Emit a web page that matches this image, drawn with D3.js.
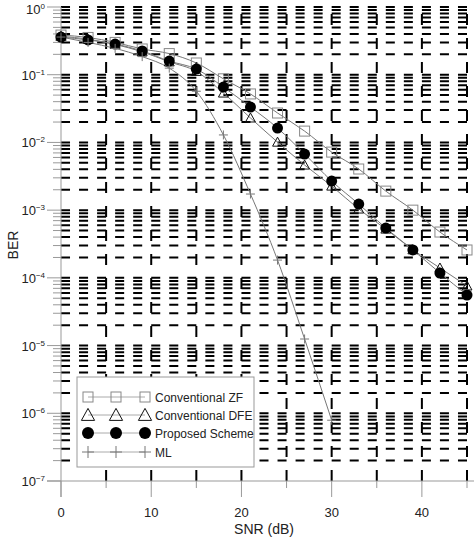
<!DOCTYPE html>
<html><head><meta charset="utf-8">
<script src="https://cdn.jsdelivr.net/npm/d3@7/dist/d3.min.js"></script>
<style>body{margin:0;background:#fff}svg{display:block;font-family:"Liberation Sans",Arial,sans-serif}</style>
</head><body><svg id="c" width="474" height="542"></svg>
<script>
const snr = [0,3,6,9,12,15,18,21,24,27,30,33,36,39,42,45];
const zf = [0.385,0.355,0.30,0.24,0.205,0.149,0.087,0.052,0.0272,0.0147,0.0072,0.00405,0.00191,0.00100,0.000475,0.000258];
const dfe = [0.37,0.335,0.28,0.218,0.155,0.112,0.0537,0.023,0.0101,0.00464,0.00227,0.00104,0.000526,0.00026,0.00014,0.000076];
const proposed = [0.36,0.326,0.284,0.224,0.159,0.121,0.0658,0.0333,0.0163,0.00674,0.00269,0.00123,0.000544,0.000258,0.000118,0.0000557];
const mlSnr = [0,3,6,9,12,15,18,21,24,27,30];
const ml = [0.36,0.30,0.245,0.185,0.125,0.057,0.0129,0.00173,0.000183,0.0000125,0.00000079];
const xTicks = [0,10,20,30,40];
const yExps = [0,-1,-2,-3,-4,-5,-6,-7];
const legendNames = ["Conventional ZF","Conventional DFE","Proposed Scheme","ML"];

const svg = d3.select("#c");
const x = d3.scaleLinear().domain([0,45]).range([61,467]);
const y = d3.scaleLog().domain([1e-7,1]).range([481,7]);
const unit = x(1)-x(0);

const gridVals = [];
for (let e=-7;e<0;e++) for (let m=1;m<=9;m++){ const v=m*Math.pow(10,e); if(v>1e-7) gridVals.push(v); }
gridVals.push(1);

const g = svg.append("g");
g.selectAll("line.hg").data(gridVals).join("line")
 .attr("x1",x(0)).attr("x2",x(45)).attr("y1",d=>y(d)).attr("y2",d=>y(d))
 .attr("stroke","#000").attr("stroke-width",2).attr("stroke-dasharray",`${unit} ${unit}`);
const vg = d3.range(5,46,5);
g.selectAll("line.vg").data(vg).join("line")
 .attr("x1",d=>x(d)).attr("x2",d=>x(d)).attr("y1",y(1e-7)).attr("y2",y(1))
 .attr("stroke","#000").attr("stroke-width",2).attr("stroke-dasharray","11 13");

const ax = svg.append("g").attr("stroke","#999").attr("stroke-width",1);
ax.append("line").attr("x1",x(0)).attr("x2",x(0)).attr("y1",y(1)).attr("y2",y(1e-7)+16);
ax.append("line").attr("x1",x(0)-14).attr("x2",474).attr("y1",y(1e-7)).attr("y2",y(1e-7));
ax.selectAll("line.yM").data(yExps).join("line")
 .attr("x1",x(0)-14).attr("x2",x(0)).attr("y1",d=>y(Math.pow(10,d))).attr("y2",d=>y(Math.pow(10,d)));
ax.selectAll("line.ym").data(gridVals.filter(v=>Math.abs(Math.log10(v)%1)>1e-9)).join("line")
 .attr("x1",x(0)-8).attr("x2",x(0)).attr("y1",d=>y(d)).attr("y2",d=>y(d));
ax.selectAll("line.xM").data(xTicks).join("line")
 .attr("x1",d=>x(d)).attr("x2",d=>x(d)).attr("y1",y(1e-7)).attr("y2",y(1e-7)+16);
ax.selectAll("line.xm").data([5,15,25,35,45]).join("line")
 .attr("x1",d=>x(d)).attr("x2",d=>x(d)).attr("y1",y(1e-7)).attr("y2",y(1e-7)+7);

svg.selectAll("text.xt").data(xTicks).join("text")
 .attr("x",d=>x(d)).attr("y",517).attr("text-anchor","middle").attr("font-size",13).attr("fill","#222").text(d=>d);
const yl = svg.selectAll("text.yt").data(yExps).join("text")
 .attr("x",45).attr("y",d=>y(Math.pow(10,d))+5+(d===0?1.5:0)).attr("text-anchor","end").attr("font-size",13).attr("fill","#222");
yl.append("tspan").text("10");
yl.append("tspan").attr("dy",-5).attr("font-size",8).text(d=>d===0?"0":"\u2212"+(-d));
svg.append("text").attr("x",264).attr("y",534).attr("text-anchor","middle").attr("font-size",14).attr("fill","#222").text("SNR (dB)");
svg.append("text").attr("transform","translate(18,245) rotate(-90)").attr("text-anchor","middle").attr("font-size",14).attr("fill","#222").text("BER");

const lineGen = (xs)=>d3.line().x((d,i)=>x(xs[i])).y(d=>y(d)).curve(d3.curveMonotoneX);
const lc = "#777";
[[zf,snr],[dfe,snr],[proposed,snr],[ml,mlSnr]].forEach(([vals,xs])=>{
  svg.append("path").attr("d",lineGen(xs)(vals)).attr("fill","none").attr("stroke",lc).attr("stroke-width",1);
});
function square(sel,cx,cy,s){sel.append("rect").attr("x",cx-s/2).attr("y",cy-s/2).attr("width",s).attr("height",s).attr("fill","none").attr("stroke","#888").attr("stroke-width",1);}
function tri(sel,cx,cy,s){sel.append("path").attr("d",`M${cx},${cy-s*0.55}L${cx+s*0.55},${cy+s*0.45}L${cx-s*0.55},${cy+s*0.45}Z`).attr("fill","none").attr("stroke","#111").attr("stroke-width",1);}
function dot(sel,cx,cy,r){sel.append("circle").attr("cx",cx).attr("cy",cy).attr("r",r).attr("fill","#000");}
function plus(sel,cx,cy,s){sel.append("path").attr("d",`M${cx},${cy-s/2}V${cy+s/2}M${cx-s/2},${cy}H${cx+s/2}`).attr("stroke","#777").attr("stroke-width",1);}
const mk = svg.append("g");
zf.forEach((v,i)=>square(mk,x(snr[i]),y(v),10));
dfe.forEach((v,i)=>tri(mk,x(snr[i]),y(v),9));
proposed.forEach((v,i)=>dot(mk,x(snr[i]),y(v),5.5));
ml.forEach((v,i)=>plus(mk,x(mlSnr[i]),y(v),9));

const lg = svg.append("g");
lg.append("rect").attr("x",77).attr("y",377).attr("width",177).attr("height",90).attr("fill","#fff").attr("stroke","#999").attr("stroke-width",1);
const rows = [397,415,433,452];
const mx = [88,116,145];
rows.forEach((ry,k)=>{
  lg.append("line").attr("x1",mx[0]).attr("x2",mx[2]).attr("y1",ry).attr("y2",ry).attr("stroke","#aaa").attr("stroke-width",1);
  mx.forEach(cx=>{
    if(k===0) square(lg,cx,ry,10);
    else if(k===1) tri(lg,cx,ry,12);
    else if(k===2) dot(lg,cx,ry,6);
    else plus(lg,cx,ry,12);
  });
  lg.append("text").attr("x",155).attr("y",ry+4.5).attr("font-size",12).attr("fill","#222").text(legendNames[k]);
});
</script></body></html>
